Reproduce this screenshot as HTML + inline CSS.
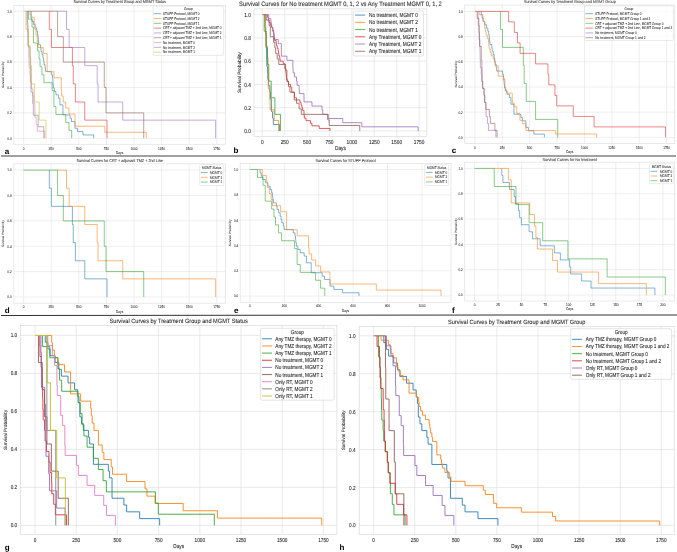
<!DOCTYPE html>
<html lang="en">
<head>
<meta charset="utf-8">
<title>Survival Curves by Treatment Group and MGMT Status</title>
<style>
html,body{margin:0;padding:0;background:#fff;}
body{width:677px;height:552px;overflow:hidden;}
svg{display:block;text-rendering:geometricPrecision;}
text{stroke:#262626;stroke-width:0.12px;stroke-opacity:0.6;font-family:"Liberation Sans",Arial,sans-serif;fill:#262626;}
text.s{stroke-width:0.06px;}
</style>
</head>
<body>
<svg width="677" height="552" viewBox="0 0 677 552">
<rect width="677" height="552" fill="#fff"/>
<path d="M23.6 5.3V144.2M51.2 5.3V144.2M78.8 5.3V144.2M106.4 5.3V144.2M134 5.3V144.2M161.6 5.3V144.2M189.2 5.3V144.2M216.8 5.3V144.2M13.9 138.3H225.4M13.9 112.88H225.4M13.9 87.46H225.4M13.9 62.04H225.4M13.9 36.62H225.4M13.9 11.2H225.4" stroke="#dddddd" stroke-width="0.5" fill="none"/>
<path d="M30.11 11.2 L30.11 14.54 L30.89 14.54 L30.89 17.89 L31.84 17.89 L31.84 21.23 L33.5 21.23 L33.5 24.58 L35.17 24.58 L35.17 27.92 L36.61 27.92 L36.61 31.27 L37.57 31.27 L37.57 34.61 L38.04 34.61 L38.04 37.96 L38.28 37.96 L38.28 41.3 L38.72 41.3 L38.72 44.65 L40.6 44.65 L40.6 47.99 L41.04 47.99 L41.04 51.34 L42.04 51.34 L42.04 54.68 L43.03 54.68 L43.03 58.03 L43.58 58.03 L43.58 61.37 L44.08 61.37 L44.08 64.72 L45.08 64.72 L45.08 68.06 L45.57 68.06 L45.57 71.41 L51.42 71.41 L51.42 74.75 L52.52 74.75 L52.52 78.09 L52.86 78.09 L52.86 81.44 L53.08 81.44 L53.08 84.78 L53.41 84.78 L53.41 88.13 L54.4 88.13 L54.4 91.47 L55.91 91.47 L55.91 94.82 L58.43 94.82 L58.43 98.16 L59.92 98.16 L59.92 104.85 L62.95 104.85 L62.95 114.89 L69.97 114.89 L69.97 118.23 L71.47 118.23 L71.47 121.58 L74.99 121.58 L74.99 128.27 L77.48 128.27 L77.48 131.61 L83 131.61 L83 134.96 L93.65 134.96 L93.65 138.3" stroke="#1f77b4" stroke-width="0.62" fill="none" stroke-linejoin="miter" stroke-opacity="0.9"/>
<path d="M31.55 11.2 L31.55 17.25 L34.2 17.25 L34.2 23.3 L34.86 23.3 L34.86 29.36 L36.08 29.36 L36.08 35.41 L37.29 35.41 L37.29 41.46 L38.01 41.46 L38.01 47.51 L43.31 47.51 L43.31 53.57 L47.12 53.57 L47.12 71.72 L53.96 71.72 L53.96 77.78 L61.25 77.78 L61.25 89.88 L61.58 89.88 L61.58 95.93 L63.23 95.93 L63.23 101.99 L65.77 101.99 L65.77 108.04 L68.97 108.04 L68.97 114.09 L74.99 114.09 L74.99 126.2 L104.74 126.2 L104.74 132.25 L146.25 132.25 L146.25 138.3" stroke="#ff7f0e" stroke-width="0.62" fill="none" stroke-linejoin="miter" stroke-opacity="0.9"/>
<path d="M28.46 11.2 L28.46 19.14 L32.05 19.14 L32.05 27.09 L33.47 27.09 L33.47 42.98 L37.57 42.98 L37.57 50.92 L39.06 50.92 L39.06 58.86 L40.05 58.86 L40.05 66.81 L41.93 66.81 L41.93 74.75 L43.91 74.75 L43.91 82.69 L52.19 82.69 L52.19 90.64 L53.9 90.64 L53.9 106.53 L55.91 106.53 L55.91 114.47 L65.77 114.47 L65.77 122.41 L68.97 122.41 L68.97 130.36 L71.68 130.36 L71.68 138.3" stroke="#2ca02c" stroke-width="0.62" fill="none" stroke-linejoin="miter" stroke-opacity="0.9"/>
<path d="M49.32 11.2 L49.32 29.36 L51.42 29.36 L51.42 47.51 L72.4 47.51 L72.4 65.67 L73.28 65.67 L73.28 83.83 L75.38 83.83 L75.38 101.99 L84.76 101.99 L84.76 120.14 L107.06 120.14 L107.06 138.3" stroke="#d62728" stroke-width="0.62" fill="none" stroke-linejoin="miter" stroke-opacity="0.9"/>
<path d="M57.6 11.2 L66.5 11.2 L66.5 29.36 L69.16 29.36 L69.16 47.51 L84.76 47.51 L84.76 65.67 L97.18 65.67 L97.18 83.83 L98.06 83.83 L98.06 101.99 L122.74 101.99 L122.74 120.14 L215.64 120.14 L215.64 138.3" stroke="#9467bd" stroke-width="0.62" fill="none" stroke-linejoin="miter" stroke-opacity="0.9"/>
<path d="M27.57 11.2 L57.6 11.2 L57.6 36.62 L63.31 36.62 L63.31 62.04 L104.27 62.04 L104.27 87.46 L106.04 87.46 L106.04 112.88 L143.72 112.88 L143.72 138.3" stroke="#8c564b" stroke-width="0.62" fill="none" stroke-linejoin="miter" stroke-opacity="0.9"/>
<path d="M26.8 11.2 L26.8 18.26 L26.93 18.26 L26.93 25.32 L27.7 25.32 L27.7 32.38 L28.25 32.38 L28.25 39.44 L28.39 39.44 L28.39 46.51 L28.76 46.51 L28.76 53.57 L28.89 53.57 L28.89 60.63 L29.09 60.63 L29.09 67.69 L30 67.69 L30 74.75 L30.39 74.75 L30.39 81.81 L31.29 81.81 L31.29 88.87 L32.96 88.87 L32.96 95.93 L33.66 95.93 L33.66 102.99 L34.75 102.99 L34.75 110.06 L34.87 110.06 L34.87 117.12 L36.15 117.12 L36.15 124.18 L37.26 124.18 L37.26 131.24 L44.74 131.24 L44.74 138.3" stroke="#e377c2" stroke-width="0.62" fill="none" stroke-linejoin="miter" stroke-opacity="0.9"/>
<path d="M25.92 11.2 L27.57 11.2 L27.57 22.75 L27.91 22.75 L27.91 45.86 L30.07 45.86 L30.07 57.42 L30.63 57.42 L30.63 68.97 L30.8 68.97 L30.8 80.53 L30.97 80.53 L30.97 92.08 L32.74 92.08 L32.74 103.64 L33.33 103.64 L33.33 115.19 L38.14 115.19 L38.14 126.75 L43.74 126.75 L43.74 138.3" stroke="#7f7f7f" stroke-width="0.62" fill="none" stroke-linejoin="miter" stroke-opacity="0.9"/>
<path d="M23.6 11.2 L25.92 11.2 L25.92 29.36 L28.46 29.36 L28.46 47.51 L30 47.51 L30 65.67 L31.59 65.67 L31.59 83.83 L34.55 83.83 L34.55 101.99 L39.14 101.99 L39.14 120.14 L45.97 120.14 L45.97 138.3" stroke="#bcbd22" stroke-width="0.62" fill="none" stroke-linejoin="miter" stroke-opacity="0.9"/>
<rect x="13.9" y="5.3" width="211.5" height="138.9" fill="none" stroke="#d4d4d4" stroke-width="0.5"/>
<text class="s" transform="translate(119.65 3.4) scale(1 1.1)" font-size="3.78" text-anchor="middle">Survival Curves by Treatment Group and MGMT Status</text>
<text class="s" transform="translate(23.6 149.68) scale(1 1.22)" font-size="3.15" text-anchor="middle">0</text>
<text class="s" transform="translate(51.2 149.68) scale(1 1.22)" font-size="3.15" text-anchor="middle">250</text>
<text class="s" transform="translate(78.8 149.68) scale(1 1.22)" font-size="3.15" text-anchor="middle">500</text>
<text class="s" transform="translate(106.4 149.68) scale(1 1.22)" font-size="3.15" text-anchor="middle">750</text>
<text class="s" transform="translate(134 149.68) scale(1 1.22)" font-size="3.15" text-anchor="middle">1000</text>
<text class="s" transform="translate(161.6 149.68) scale(1 1.22)" font-size="3.15" text-anchor="middle">1250</text>
<text class="s" transform="translate(189.2 149.68) scale(1 1.22)" font-size="3.15" text-anchor="middle">1500</text>
<text class="s" transform="translate(216.8 149.68) scale(1 1.22)" font-size="3.15" text-anchor="middle">1750</text>
<text class="s" transform="translate(11.7 139.68) scale(1 1.22)" font-size="3.15" text-anchor="end">0.0</text>
<text class="s" transform="translate(11.7 114.26) scale(1 1.22)" font-size="3.15" text-anchor="end">0.2</text>
<text class="s" transform="translate(11.7 88.84) scale(1 1.22)" font-size="3.15" text-anchor="end">0.4</text>
<text class="s" transform="translate(11.7 63.42) scale(1 1.22)" font-size="3.15" text-anchor="end">0.6</text>
<text class="s" transform="translate(11.7 38) scale(1 1.22)" font-size="3.15" text-anchor="end">0.8</text>
<text class="s" transform="translate(11.7 12.58) scale(1 1.22)" font-size="3.15" text-anchor="end">1.0</text>
<text class="s" transform="translate(119.65 153.85) scale(1 1.22)" font-size="3.15" text-anchor="middle">Days</text>
<text transform="translate(3.2 74.75) rotate(-90)" font-size="3.15" class="s" text-anchor="middle" dy="0.94">Survival Probability</text>
<rect x="153.2" y="6.2" width="70.5" height="49.2" rx="1" fill="#fff" fill-opacity="0.8" stroke="#d4d4d4" stroke-width="0.5"/>
<text class="s" transform="translate(188.45 10.47) scale(1 1.22)" font-size="3.15" text-anchor="middle">Group</text>
<path d="M153.9 13.7H161.2" stroke="#1f77b4" stroke-width="0.62" stroke-opacity="0.9"/>
<text class="s" transform="translate(162.9 15.01) scale(1 1.22)" font-size="3.15">STUPP Protocol, MGMT 0</text>
<path d="M153.9 18.51H161.2" stroke="#ff7f0e" stroke-width="0.62" stroke-opacity="0.9"/>
<text class="s" transform="translate(162.9 19.82) scale(1 1.22)" font-size="3.15">STUPP Protocol, MGMT 2</text>
<path d="M153.9 23.32H161.2" stroke="#2ca02c" stroke-width="0.62" stroke-opacity="0.9"/>
<text class="s" transform="translate(162.9 24.63) scale(1 1.22)" font-size="3.15">STUPP Protocol, MGMT 1</text>
<path d="M153.9 28.13H161.2" stroke="#d62728" stroke-width="0.62" stroke-opacity="0.9"/>
<text class="s" transform="translate(162.9 29.44) scale(1 1.22)" font-size="3.15">CRT + adjuvant TMZ + 2nd Line, MGMT 0</text>
<path d="M153.9 32.94H161.2" stroke="#9467bd" stroke-width="0.62" stroke-opacity="0.9"/>
<text class="s" transform="translate(162.9 34.25) scale(1 1.22)" font-size="3.15">CRT + adjuvant TMZ + 2nd Line, MGMT 2</text>
<path d="M153.9 37.75H161.2" stroke="#8c564b" stroke-width="0.62" stroke-opacity="0.9"/>
<text class="s" transform="translate(162.9 39.06) scale(1 1.22)" font-size="3.15">CRT + adjuvant TMZ + 2nd Line, MGMT 1</text>
<path d="M153.9 42.56H161.2" stroke="#e377c2" stroke-width="0.62" stroke-opacity="0.9"/>
<text class="s" transform="translate(162.9 43.87) scale(1 1.22)" font-size="3.15">No treatment, MGMT 0</text>
<path d="M153.9 47.37H161.2" stroke="#7f7f7f" stroke-width="0.62" stroke-opacity="0.9"/>
<text class="s" transform="translate(162.9 48.68) scale(1 1.22)" font-size="3.15">No treatment, MGMT 2</text>
<path d="M153.9 52.18H161.2" stroke="#bcbd22" stroke-width="0.62" stroke-opacity="0.9"/>
<text class="s" transform="translate(162.9 53.49) scale(1 1.22)" font-size="3.15">No treatment, MGMT 1</text>
<text x="4.7" y="153.7" font-size="8" font-weight="bold" style="fill:#000;stroke:none">a</text>
<path d="M262.3 8.9V136.5M284.7 8.9V136.5M307.1 8.9V136.5M329.5 8.9V136.5M351.9 8.9V136.5M374.3 8.9V136.5M396.7 8.9V136.5M419.1 8.9V136.5M254 131H426.9M254 107.72H426.9M254 84.44H426.9M254 61.16H426.9M254 37.88H426.9M254 14.6H426.9" stroke="#dddddd" stroke-width="0.6" fill="none"/>
<path d="M264.9 14.6 L264.9 21.07 L265.01 21.07 L265.01 27.53 L265.62 27.53 L265.62 34 L266.07 34 L266.07 40.47 L266.19 40.47 L266.19 46.93 L266.48 46.93 L266.48 53.4 L266.59 53.4 L266.59 59.87 L266.75 59.87 L266.75 66.33 L267.5 66.33 L267.5 72.8 L267.81 72.8 L267.81 79.27 L268.55 79.27 L268.55 85.73 L269.9 85.73 L269.9 92.2 L270.46 92.2 L270.46 98.67 L271.35 98.67 L271.35 105.13 L271.45 105.13 L271.45 111.6 L272.49 111.6 L272.49 118.07 L273.38 118.07 L273.38 124.53 L279.46 124.53 L279.46 131" stroke="#1f77b4" stroke-width="0.8" fill="none" stroke-linejoin="miter" stroke-opacity="0.95"/>
<path d="M265.53 14.6 L265.53 25.18 L265.79 25.18 L265.79 46.35 L267.55 46.35 L267.55 56.93 L268.01 56.93 L268.01 67.51 L268.14 67.51 L268.14 78.09 L268.29 78.09 L268.29 88.67 L269.72 88.67 L269.72 99.25 L270.19 99.25 L270.19 109.84 L274.1 109.84 L274.1 120.42 L278.64 120.42 L278.64 131" stroke="#ff7f0e" stroke-width="0.8" fill="none" stroke-linejoin="miter" stroke-opacity="0.95"/>
<path d="M264.18 14.6 L264.18 31.23 L266.24 31.23 L266.24 47.86 L267.5 47.86 L267.5 64.49 L268.79 64.49 L268.79 81.11 L271.19 81.11 L271.19 97.74 L274.92 97.74 L274.92 114.37 L280.45 114.37 L280.45 131" stroke="#2ca02c" stroke-width="0.8" fill="none" stroke-linejoin="miter" stroke-opacity="0.95"/>
<path d="M267.59 14.6 L267.59 17.19 L268.21 17.19 L268.21 19.77 L268.98 19.77 L268.98 22.36 L270.34 22.36 L270.34 24.95 L271.69 24.95 L271.69 27.53 L272.85 27.53 L272.85 30.12 L273.63 30.12 L273.63 32.71 L274.02 32.71 L274.02 35.29 L274.22 35.29 L274.22 37.88 L274.58 37.88 L274.58 40.47 L276.1 40.47 L276.1 43.05 L276.46 43.05 L276.46 45.64 L277.26 45.64 L277.26 48.23 L278.07 48.23 L278.07 50.81 L278.52 50.81 L278.52 53.4 L278.92 53.4 L278.92 55.99 L279.74 55.99 L279.74 58.57 L280.13 58.57 L280.13 61.16 L283.18 61.16 L283.18 63.75 L284.88 63.75 L284.88 68.92 L285.78 68.92 L285.78 71.51 L286.04 71.51 L286.04 74.09 L286.22 74.09 L286.22 76.68 L286.49 76.68 L286.49 79.27 L287.3 79.27 L287.3 81.85 L288.53 81.85 L288.53 84.44 L290.57 84.44 L290.57 87.03 L291.78 87.03 L291.78 92.2 L294.23 92.2 L294.23 99.96 L299.93 99.96 L299.93 102.55 L301.15 102.55 L301.15 105.13 L301.9 105.13 L301.9 107.72 L302.62 107.72 L302.62 110.31 L304.01 110.31 L304.01 115.48 L304.32 115.48 L304.32 118.07 L306.02 118.07 L306.02 120.65 L310.5 120.65 L310.5 123.24 L311.94 123.24 L311.94 125.83 L319.15 125.83 L319.15 128.41 L330.04 128.41 L330.04 131" stroke="#d62728" stroke-width="0.8" fill="none" stroke-linejoin="miter" stroke-opacity="0.95"/>
<path d="M266.24 14.6 L268.75 14.6 L268.75 18.76 L270.9 18.76 L270.9 22.91 L271.44 22.91 L271.44 27.07 L272.42 27.07 L272.42 31.23 L273.41 31.23 L273.41 35.39 L273.99 35.39 L273.99 39.54 L278.29 39.54 L278.29 43.7 L281.38 43.7 L281.38 56.17 L286.94 56.17 L286.94 60.33 L292.85 60.33 L292.85 68.64 L293.12 68.64 L293.12 72.8 L294.47 72.8 L294.47 76.96 L296.53 76.96 L296.53 81.11 L297.12 81.11 L297.12 85.27 L299.13 85.27 L299.13 89.43 L299.28 89.43 L299.28 93.59 L304.01 93.59 L304.01 101.9 L311.94 101.9 L311.94 106.06 L322.02 106.06 L322.02 110.21 L322.74 110.21 L322.74 114.37 L328.16 114.37 L328.16 118.53 L342.76 118.53 L342.76 122.69 L361.85 122.69 L361.85 126.84 L418.16 126.84 L418.16 131" stroke="#9467bd" stroke-width="0.8" fill="none" stroke-linejoin="miter" stroke-opacity="0.95"/>
<path d="M262.3 14.6 L266.24 14.6 L266.24 20.14 L269.15 20.14 L269.15 25.69 L270.31 25.69 L270.31 36.77 L273.63 36.77 L273.63 42.31 L274.84 42.31 L274.84 47.86 L275.65 47.86 L275.65 53.4 L277.17 53.4 L277.17 58.94 L278.79 58.94 L278.79 64.49 L285.51 64.49 L285.51 70.03 L286.9 70.03 L286.9 81.11 L288.53 81.11 L288.53 86.66 L289.9 86.66 L289.9 92.2 L294.53 92.2 L294.53 97.74 L296.53 97.74 L296.53 103.29 L299.13 103.29 L299.13 108.83 L301.32 108.83 L301.32 114.37 L327.77 114.37 L327.77 119.91 L329.2 119.91 L329.2 125.46 L359.78 125.46 L359.78 131" stroke="#8c564b" stroke-width="0.8" fill="none" stroke-linejoin="miter" stroke-opacity="0.95"/>
<rect x="254" y="8.9" width="172.9" height="127.6" fill="none" stroke="#d4d4d4" stroke-width="0.6"/>
<text transform="translate(340.45 5.88) scale(1 1.1)" font-size="5.75" text-anchor="middle">Survival Curves for No treatment MGMT 0, 1, 2 vs Any Treatment MGMT 0, 1, 2</text>
<text transform="translate(262.3 144.31) scale(1 1.22)" font-size="4.8" text-anchor="middle">0</text>
<text transform="translate(284.7 144.31) scale(1 1.22)" font-size="4.8" text-anchor="middle">250</text>
<text transform="translate(307.1 144.31) scale(1 1.22)" font-size="4.8" text-anchor="middle">500</text>
<text transform="translate(329.5 144.31) scale(1 1.22)" font-size="4.8" text-anchor="middle">750</text>
<text transform="translate(351.9 144.31) scale(1 1.22)" font-size="4.8" text-anchor="middle">1000</text>
<text transform="translate(374.3 144.31) scale(1 1.22)" font-size="4.8" text-anchor="middle">1250</text>
<text transform="translate(396.7 144.31) scale(1 1.22)" font-size="4.8" text-anchor="middle">1500</text>
<text transform="translate(419.1 144.31) scale(1 1.22)" font-size="4.8" text-anchor="middle">1750</text>
<text transform="translate(250.8 133.11) scale(1 1.22)" font-size="4.8" text-anchor="end">0.0</text>
<text transform="translate(250.8 109.83) scale(1 1.22)" font-size="4.8" text-anchor="end">0.2</text>
<text transform="translate(250.8 86.55) scale(1 1.22)" font-size="4.8" text-anchor="end">0.4</text>
<text transform="translate(250.8 63.27) scale(1 1.22)" font-size="4.8" text-anchor="end">0.6</text>
<text transform="translate(250.8 39.99) scale(1 1.22)" font-size="4.8" text-anchor="end">0.8</text>
<text transform="translate(250.8 16.71) scale(1 1.22)" font-size="4.8" text-anchor="end">1.0</text>
<text transform="translate(340.45 150.16) scale(1 1.22)" font-size="4.8" text-anchor="middle">Days</text>
<text transform="translate(239.2 72.7) rotate(-90)" font-size="4.8" text-anchor="middle" dy="1.44">Survival Probability</text>
<rect x="353.3" y="11" width="70.2" height="45" rx="1.5" fill="#fff" fill-opacity="0.8" stroke="#d4d4d4" stroke-width="0.6"/>
<path d="M355.1 15.1H365.2" stroke="#1f77b4" stroke-width="0.8" stroke-opacity="0.95"/>
<text transform="translate(369 17.09) scale(1 1.22)" font-size="4.8">No treatment, MGMT 0</text>
<path d="M355.1 22.34H365.2" stroke="#ff7f0e" stroke-width="0.8" stroke-opacity="0.95"/>
<text transform="translate(369 24.33) scale(1 1.22)" font-size="4.8">No treatment, MGMT 2</text>
<path d="M355.1 29.58H365.2" stroke="#2ca02c" stroke-width="0.8" stroke-opacity="0.95"/>
<text transform="translate(369 31.57) scale(1 1.22)" font-size="4.8">No treatment, MGMT 1</text>
<path d="M355.1 36.82H365.2" stroke="#d62728" stroke-width="0.8" stroke-opacity="0.95"/>
<text transform="translate(369 38.81) scale(1 1.22)" font-size="4.8">Any Treatment, MGMT 0</text>
<path d="M355.1 44.06H365.2" stroke="#9467bd" stroke-width="0.8" stroke-opacity="0.95"/>
<text transform="translate(369 46.05) scale(1 1.22)" font-size="4.8">Any Treatment, MGMT 2</text>
<path d="M355.1 51.3H365.2" stroke="#8c564b" stroke-width="0.8" stroke-opacity="0.95"/>
<text transform="translate(369 53.29) scale(1 1.22)" font-size="4.8">Any Treatment, MGMT 1</text>
<text x="233.6" y="152.6" font-size="8" font-weight="bold" style="fill:#000;stroke:none">b</text>
<path d="M474.9 5V143.3M502.29 5V143.3M529.68 5V143.3M557.07 5V143.3M584.46 5V143.3M611.85 5V143.3M639.24 5V143.3M666.63 5V143.3M464.8 137.4H674.8M464.8 112.2H674.8M464.8 87H674.8M464.8 61.8H674.8M464.8 36.6H674.8M464.8 11.4H674.8" stroke="#dddddd" stroke-width="0.5" fill="none"/>
<path d="M481.36 11.4 L481.36 14.72 L482.13 14.72 L482.13 18.03 L483.07 18.03 L483.07 21.35 L484.73 21.35 L484.73 24.66 L486.38 24.66 L486.38 27.98 L487.81 27.98 L487.81 31.29 L488.76 31.29 L488.76 34.61 L489.23 34.61 L489.23 37.93 L489.47 37.93 L489.47 41.24 L489.91 41.24 L489.91 44.56 L491.77 44.56 L491.77 47.87 L492.21 47.87 L492.21 51.19 L493.2 51.19 L493.2 54.51 L494.18 54.51 L494.18 57.82 L494.73 57.82 L494.73 61.14 L495.22 61.14 L495.22 64.45 L496.22 64.45 L496.22 67.77 L496.7 67.77 L496.7 71.08 L502.51 71.08 L502.51 74.4 L503.6 74.4 L503.6 77.72 L503.93 77.72 L503.93 81.03 L504.15 81.03 L504.15 84.35 L504.48 84.35 L504.48 87.66 L505.47 87.66 L505.47 90.98 L506.97 90.98 L506.97 94.29 L509.47 94.29 L509.47 97.61 L510.95 97.61 L510.95 104.24 L513.95 104.24 L513.95 114.19 L520.92 114.19 L520.92 117.51 L522.41 117.51 L522.41 120.82 L525.9 120.82 L525.9 127.45 L528.37 127.45 L528.37 130.77 L533.84 130.77 L533.84 134.08 L544.42 134.08 L544.42 137.4" stroke="#1f77b4" stroke-width="0.62" fill="none" stroke-linejoin="miter" stroke-opacity="0.9"/>
<path d="M479.72 11.4 L479.72 14.81 L482.79 14.81 L482.79 18.21 L483.28 18.21 L483.28 21.62 L484.69 21.62 L484.69 28.43 L485.42 28.43 L485.42 31.83 L486.08 31.83 L486.08 35.24 L487.28 35.24 L487.28 38.64 L488.49 38.64 L488.49 42.05 L488.76 42.05 L488.76 45.45 L489.2 45.45 L489.2 48.86 L490.24 48.86 L490.24 52.26 L491.22 52.26 L491.22 55.67 L493.09 55.67 L493.09 59.08 L494.46 59.08 L494.46 62.48 L495.06 62.48 L495.06 65.89 L498.24 65.89 L498.24 76.1 L503.28 76.1 L503.28 79.51 L504.97 79.51 L504.97 86.32 L505.03 86.32 L505.03 89.72 L506.97 89.72 L506.97 93.13 L512.26 93.13 L512.26 99.94 L512.59 99.94 L512.59 103.35 L514.23 103.35 L514.23 106.75 L516.75 106.75 L516.75 113.56 L519.93 113.56 L519.93 120.37 L522.61 120.37 L522.61 123.78 L525.9 123.78 L525.9 130.59 L555.43 130.59 L555.43 133.99 L596.62 133.99 L596.62 137.4" stroke="#ff7f0e" stroke-width="0.62" fill="none" stroke-linejoin="miter" stroke-opacity="0.9"/>
<path d="M500.43 11.4 L500.43 29.4 L502.51 29.4 L502.51 47.4 L523.33 47.4 L523.33 65.4 L524.2 65.4 L524.2 83.4 L526.28 83.4 L526.28 101.4 L535.6 101.4 L535.6 119.4 L557.73 119.4 L557.73 137.4" stroke="#2ca02c" stroke-width="0.62" fill="none" stroke-linejoin="miter" stroke-opacity="0.9"/>
<path d="M478.08 11.4 L508.64 11.4 L508.64 21.9 L514.31 21.9 L514.31 32.4 L517.48 32.4 L517.48 42.9 L520.12 42.9 L520.12 53.4 L535.6 53.4 L535.6 63.9 L547.92 63.9 L547.92 74.4 L548.8 74.4 L548.8 84.9 L554.96 84.9 L554.96 95.4 L556.71 95.4 L556.71 105.9 L573.28 105.9 L573.28 116.4 L594.1 116.4 L594.1 126.9 L665.48 126.9 L665.48 137.4" stroke="#d62728" stroke-width="0.62" fill="none" stroke-linejoin="miter" stroke-opacity="0.9"/>
<path d="M477.2 11.4 L478.08 11.4 L478.08 18.4 L478.21 18.4 L478.21 25.4 L478.96 25.4 L478.96 32.4 L479.51 32.4 L479.51 39.4 L479.65 39.4 L479.65 46.4 L480.02 46.4 L480.02 53.4 L480.15 53.4 L480.15 60.4 L480.35 60.4 L480.35 67.4 L481.25 67.4 L481.25 74.4 L481.64 74.4 L481.64 81.4 L482.54 81.4 L482.54 88.4 L484.19 88.4 L484.19 95.4 L484.88 95.4 L484.88 102.4 L485.97 102.4 L485.97 109.4 L486.09 109.4 L486.09 116.4 L487.36 116.4 L487.36 123.4 L488.45 123.4 L488.45 130.4 L495.88 130.4 L495.88 137.4" stroke="#9467bd" stroke-width="0.62" fill="none" stroke-linejoin="miter" stroke-opacity="0.9"/>
<path d="M474.9 11.4 L477.2 11.4 L477.2 18.4 L478.84 18.4 L478.84 25.4 L479.17 25.4 L479.17 39.4 L479.72 39.4 L479.72 46.4 L481.25 46.4 L481.25 53.4 L481.32 53.4 L481.32 60.4 L481.88 60.4 L481.88 67.4 L482.04 67.4 L482.04 74.4 L482.22 74.4 L482.22 81.4 L482.83 81.4 L482.83 88.4 L483.97 88.4 L483.97 95.4 L484.55 95.4 L484.55 102.4 L485.77 102.4 L485.77 109.4 L489.33 109.4 L489.33 116.4 L490.33 116.4 L490.33 123.4 L494.88 123.4 L494.88 130.4 L497.1 130.4 L497.1 137.4" stroke="#8c564b" stroke-width="0.62" fill="none" stroke-linejoin="miter" stroke-opacity="0.9"/>
<rect x="464.8" y="5" width="210" height="138.3" fill="none" stroke="#d4d4d4" stroke-width="0.5"/>
<text class="s" transform="translate(569.8 3.48) scale(1 1.1)" font-size="3.75" text-anchor="middle">Survival Curves by Treatment Group and MGMT Group</text>
<text class="s" transform="translate(474.9 148.78) scale(1 1.22)" font-size="3.15" text-anchor="middle">0</text>
<text class="s" transform="translate(502.29 148.78) scale(1 1.22)" font-size="3.15" text-anchor="middle">250</text>
<text class="s" transform="translate(529.68 148.78) scale(1 1.22)" font-size="3.15" text-anchor="middle">500</text>
<text class="s" transform="translate(557.07 148.78) scale(1 1.22)" font-size="3.15" text-anchor="middle">750</text>
<text class="s" transform="translate(584.46 148.78) scale(1 1.22)" font-size="3.15" text-anchor="middle">1000</text>
<text class="s" transform="translate(611.85 148.78) scale(1 1.22)" font-size="3.15" text-anchor="middle">1250</text>
<text class="s" transform="translate(639.24 148.78) scale(1 1.22)" font-size="3.15" text-anchor="middle">1500</text>
<text class="s" transform="translate(666.63 148.78) scale(1 1.22)" font-size="3.15" text-anchor="middle">1750</text>
<text class="s" transform="translate(462.8 138.78) scale(1 1.22)" font-size="3.15" text-anchor="end">0.0</text>
<text class="s" transform="translate(462.8 113.58) scale(1 1.22)" font-size="3.15" text-anchor="end">0.2</text>
<text class="s" transform="translate(462.8 88.38) scale(1 1.22)" font-size="3.15" text-anchor="end">0.4</text>
<text class="s" transform="translate(462.8 63.18) scale(1 1.22)" font-size="3.15" text-anchor="end">0.6</text>
<text class="s" transform="translate(462.8 37.98) scale(1 1.22)" font-size="3.15" text-anchor="end">0.8</text>
<text class="s" transform="translate(462.8 12.78) scale(1 1.22)" font-size="3.15" text-anchor="end">1.0</text>
<text class="s" transform="translate(569.8 152.95) scale(1 1.22)" font-size="3.15" text-anchor="middle">Days</text>
<text transform="translate(455.8 74.15) rotate(-90)" font-size="3.15" class="s" text-anchor="middle" dy="0.94">Survival Probability</text>
<rect x="584.5" y="5.9" width="88.8" height="34.6" rx="1" fill="#fff" fill-opacity="0.8" stroke="#d4d4d4" stroke-width="0.5"/>
<text class="s" transform="translate(628.9 10.17) scale(1 1.22)" font-size="3.15" text-anchor="middle">Group</text>
<path d="M585.4 13.7H593.1" stroke="#1f77b4" stroke-width="0.62" stroke-opacity="0.9"/>
<text class="s" transform="translate(595.2 15.01) scale(1 1.22)" font-size="3.15">STUPP Protocol, MGMT Group 0</text>
<path d="M585.4 18.5H593.1" stroke="#ff7f0e" stroke-width="0.62" stroke-opacity="0.9"/>
<text class="s" transform="translate(595.2 19.81) scale(1 1.22)" font-size="3.15">STUPP Protocol, MGMT Group 1 and 2</text>
<path d="M585.4 23.3H593.1" stroke="#2ca02c" stroke-width="0.62" stroke-opacity="0.9"/>
<text class="s" transform="translate(595.2 24.61) scale(1 1.22)" font-size="3.15">CRT + adjuvant TMZ + 2nd Line, MGMT Group 0</text>
<path d="M585.4 28.1H593.1" stroke="#d62728" stroke-width="0.62" stroke-opacity="0.9"/>
<text class="s" transform="translate(595.2 29.41) scale(1 1.22)" font-size="3.15">CRT + adjuvant TMZ + 2nd Line, MGMT Group 1 and 2</text>
<path d="M585.4 32.9H593.1" stroke="#9467bd" stroke-width="0.62" stroke-opacity="0.9"/>
<text class="s" transform="translate(595.2 34.21) scale(1 1.22)" font-size="3.15">No treatment, MGMT Group 0</text>
<path d="M585.4 37.7H593.1" stroke="#8c564b" stroke-width="0.62" stroke-opacity="0.9"/>
<text class="s" transform="translate(595.2 39.01) scale(1 1.22)" font-size="3.15">No treatment, MGMT Group 1 and 2</text>
<text x="451.8" y="152.7" font-size="8" font-weight="bold" style="fill:#000;stroke:none">c</text>
<path d="M23.6 163.9V303.2M51.2 163.9V303.2M78.8 163.9V303.2M106.4 163.9V303.2M134 163.9V303.2M161.6 163.9V303.2M189.2 163.9V303.2M216.8 163.9V303.2M13.9 297H225.4M13.9 271.62H225.4M13.9 246.24H225.4M13.9 220.86H225.4M13.9 195.48H225.4M13.9 170.1H225.4" stroke="#dddddd" stroke-width="0.5" fill="none"/>
<path d="M49.32 170.1 L49.32 188.23 L51.42 188.23 L51.42 206.36 L72.4 206.36 L72.4 224.49 L73.28 224.49 L73.28 242.61 L75.38 242.61 L75.38 260.74 L84.76 260.74 L84.76 278.87 L107.06 278.87 L107.06 297" stroke="#1f77b4" stroke-width="0.62" fill="none" stroke-linejoin="miter" stroke-opacity="0.9"/>
<path d="M57.6 170.1 L66.5 170.1 L66.5 188.23 L69.16 188.23 L69.16 206.36 L84.76 206.36 L84.76 224.49 L97.18 224.49 L97.18 242.61 L98.06 242.61 L98.06 260.74 L122.74 260.74 L122.74 278.87 L215.64 278.87 L215.64 297" stroke="#ff7f0e" stroke-width="0.62" fill="none" stroke-linejoin="miter" stroke-opacity="0.9"/>
<path d="M23.6 170.1 L57.6 170.1 L57.6 195.48 L63.31 195.48 L63.31 220.86 L104.27 220.86 L104.27 246.24 L106.04 246.24 L106.04 271.62 L143.72 271.62 L143.72 297" stroke="#2ca02c" stroke-width="0.62" fill="none" stroke-linejoin="miter" stroke-opacity="0.9"/>
<rect x="13.9" y="163.9" width="211.5" height="139.3" fill="none" stroke="#d4d4d4" stroke-width="0.5"/>
<text class="s" transform="translate(119.65 161.9) scale(1 1.1)" font-size="3.78" text-anchor="middle">Survival Curves for CRT + adjuvant TMZ + 2nd Line</text>
<text class="s" transform="translate(23.6 307.98) scale(1 1.22)" font-size="3.15" text-anchor="middle">0</text>
<text class="s" transform="translate(51.2 307.98) scale(1 1.22)" font-size="3.15" text-anchor="middle">250</text>
<text class="s" transform="translate(78.8 307.98) scale(1 1.22)" font-size="3.15" text-anchor="middle">500</text>
<text class="s" transform="translate(106.4 307.98) scale(1 1.22)" font-size="3.15" text-anchor="middle">750</text>
<text class="s" transform="translate(134 307.98) scale(1 1.22)" font-size="3.15" text-anchor="middle">1000</text>
<text class="s" transform="translate(161.6 307.98) scale(1 1.22)" font-size="3.15" text-anchor="middle">1250</text>
<text class="s" transform="translate(189.2 307.98) scale(1 1.22)" font-size="3.15" text-anchor="middle">1500</text>
<text class="s" transform="translate(216.8 307.98) scale(1 1.22)" font-size="3.15" text-anchor="middle">1750</text>
<text class="s" transform="translate(11.7 298.38) scale(1 1.22)" font-size="3.15" text-anchor="end">0.0</text>
<text class="s" transform="translate(11.7 273) scale(1 1.22)" font-size="3.15" text-anchor="end">0.2</text>
<text class="s" transform="translate(11.7 247.62) scale(1 1.22)" font-size="3.15" text-anchor="end">0.4</text>
<text class="s" transform="translate(11.7 222.24) scale(1 1.22)" font-size="3.15" text-anchor="end">0.6</text>
<text class="s" transform="translate(11.7 196.86) scale(1 1.22)" font-size="3.15" text-anchor="end">0.8</text>
<text class="s" transform="translate(11.7 171.48) scale(1 1.22)" font-size="3.15" text-anchor="end">1.0</text>
<text class="s" transform="translate(119.65 312.55) scale(1 1.22)" font-size="3.15" text-anchor="middle">Days</text>
<text transform="translate(3.2 233.55) rotate(-90)" font-size="3.15" class="s" text-anchor="middle" dy="0.94">Survival Probability</text>
<rect x="199.7" y="164.7" width="24" height="20.8" rx="1" fill="#fff" fill-opacity="0.8" stroke="#d4d4d4" stroke-width="0.5"/>
<text class="s" transform="translate(211.7 169.07) scale(1 1.22)" font-size="3.15" text-anchor="middle">MGMT Status</text>
<path d="M200.9 172.6H207.7" stroke="#1f77b4" stroke-width="0.62" stroke-opacity="0.9"/>
<text class="s" transform="translate(210 173.91) scale(1 1.22)" font-size="3.15">MGMT 0</text>
<path d="M200.9 177.35H207.7" stroke="#ff7f0e" stroke-width="0.62" stroke-opacity="0.9"/>
<text class="s" transform="translate(210 178.66) scale(1 1.22)" font-size="3.15">MGMT 2</text>
<path d="M200.9 182.1H207.7" stroke="#2ca02c" stroke-width="0.62" stroke-opacity="0.9"/>
<text class="s" transform="translate(210 183.41) scale(1 1.22)" font-size="3.15">MGMT 1</text>
<text x="4.7" y="312.5" font-size="8" font-weight="bold" style="fill:#000;stroke:none">d</text>
<path d="M249.9 163.3V302.3M284.3 163.3V302.3M318.7 163.3V302.3M353.1 163.3V302.3M387.5 163.3V302.3M421.9 163.3V302.3M240.1 296.1H451M240.1 270.78H451M240.1 245.46H451M240.1 220.14H451M240.1 194.82H451M240.1 169.5H451" stroke="#dddddd" stroke-width="0.5" fill="none"/>
<path d="M260.05 169.5 L260.05 172.83 L261.25 172.83 L261.25 176.16 L262.73 176.16 L262.73 179.49 L265.33 179.49 L265.33 182.83 L267.93 182.83 L267.93 186.16 L270.16 186.16 L270.16 189.49 L271.66 189.49 L271.66 192.82 L272.4 192.82 L272.4 196.15 L272.78 196.15 L272.78 199.48 L273.46 199.48 L273.46 202.82 L276.39 202.82 L276.39 206.15 L277.08 206.15 L277.08 209.48 L278.62 209.48 L278.62 212.81 L280.17 212.81 L280.17 216.14 L281.03 216.14 L281.03 219.47 L281.81 219.47 L281.81 222.81 L283.37 222.81 L283.37 226.14 L284.13 226.14 L284.13 229.47 L293.24 229.47 L293.24 232.8 L294.96 232.8 L294.96 236.13 L295.48 236.13 L295.48 239.46 L295.82 239.46 L295.82 242.79 L296.34 242.79 L296.34 246.13 L297.89 246.13 L297.89 249.46 L300.24 249.46 L300.24 252.79 L304.17 252.79 L304.17 256.12 L306.49 256.12 L306.49 262.78 L311.2 262.78 L311.2 272.78 L322.14 272.78 L322.14 276.11 L324.48 276.11 L324.48 279.44 L329.97 279.44 L329.97 286.11 L333.84 286.11 L333.84 289.44 L342.44 289.44 L342.44 292.77 L359.03 292.77 L359.03 296.1" stroke="#1f77b4" stroke-width="0.62" fill="none" stroke-linejoin="miter" stroke-opacity="0.9"/>
<path d="M257.47 169.5 L262.28 169.5 L262.28 175.53 L266.41 175.53 L266.41 181.56 L267.44 181.56 L267.44 187.59 L269.34 187.59 L269.34 193.61 L271.23 193.61 L271.23 199.64 L272.35 199.64 L272.35 205.67 L280.6 205.67 L280.6 211.7 L286.54 211.7 L286.54 229.79 L297.2 229.79 L297.2 235.81 L308.55 235.81 L308.55 247.87 L309.07 247.87 L309.07 253.9 L311.65 253.9 L311.65 259.93 L315.6 259.93 L315.6 265.96 L320.59 265.96 L320.59 271.99 L329.97 271.99 L329.97 284.04 L376.32 284.04 L376.32 290.07 L440.99 290.07 L440.99 296.1" stroke="#ff7f0e" stroke-width="0.62" fill="none" stroke-linejoin="miter" stroke-opacity="0.9"/>
<path d="M249.9 169.5 L257.47 169.5 L257.47 177.41 L263.06 177.41 L263.06 185.32 L265.28 185.32 L265.28 201.15 L271.66 201.15 L271.66 209.06 L273.98 209.06 L273.98 216.98 L275.53 216.98 L275.53 224.89 L278.45 224.89 L278.45 232.8 L281.55 232.8 L281.55 240.71 L294.45 240.71 L294.45 248.62 L297.11 248.62 L297.11 264.45 L300.24 264.45 L300.24 272.36 L315.6 272.36 L315.6 280.28 L320.59 280.28 L320.59 288.19 L324.81 288.19 L324.81 296.1" stroke="#2ca02c" stroke-width="0.62" fill="none" stroke-linejoin="miter" stroke-opacity="0.9"/>
<rect x="240.1" y="163.3" width="210.9" height="139" fill="none" stroke="#d4d4d4" stroke-width="0.5"/>
<text class="s" transform="translate(345.55 161.79) scale(1 1.1)" font-size="3.75" text-anchor="middle">Survival Curves for STUPP Protocol</text>
<text class="s" transform="translate(249.9 307.38) scale(1 1.22)" font-size="3.15" text-anchor="middle">0</text>
<text class="s" transform="translate(284.3 307.38) scale(1 1.22)" font-size="3.15" text-anchor="middle">200</text>
<text class="s" transform="translate(318.7 307.38) scale(1 1.22)" font-size="3.15" text-anchor="middle">400</text>
<text class="s" transform="translate(353.1 307.38) scale(1 1.22)" font-size="3.15" text-anchor="middle">600</text>
<text class="s" transform="translate(387.5 307.38) scale(1 1.22)" font-size="3.15" text-anchor="middle">800</text>
<text class="s" transform="translate(421.9 307.38) scale(1 1.22)" font-size="3.15" text-anchor="middle">1000</text>
<text class="s" transform="translate(238.3 297.48) scale(1 1.22)" font-size="3.15" text-anchor="end">0.0</text>
<text class="s" transform="translate(238.3 272.16) scale(1 1.22)" font-size="3.15" text-anchor="end">0.2</text>
<text class="s" transform="translate(238.3 246.84) scale(1 1.22)" font-size="3.15" text-anchor="end">0.4</text>
<text class="s" transform="translate(238.3 221.52) scale(1 1.22)" font-size="3.15" text-anchor="end">0.6</text>
<text class="s" transform="translate(238.3 196.2) scale(1 1.22)" font-size="3.15" text-anchor="end">0.8</text>
<text class="s" transform="translate(238.3 170.88) scale(1 1.22)" font-size="3.15" text-anchor="end">1.0</text>
<text class="s" transform="translate(345.55 311.75) scale(1 1.22)" font-size="3.15" text-anchor="middle">Days</text>
<text transform="translate(230.5 232.8) rotate(-90)" font-size="3.15" class="s" text-anchor="middle" dy="0.94">Survival Probability</text>
<rect x="424.7" y="164.7" width="24" height="20.8" rx="1" fill="#fff" fill-opacity="0.8" stroke="#d4d4d4" stroke-width="0.5"/>
<text class="s" transform="translate(436.7 169.07) scale(1 1.22)" font-size="3.15" text-anchor="middle">MGMT Status</text>
<path d="M426 172.4H432.7" stroke="#1f77b4" stroke-width="0.62" stroke-opacity="0.9"/>
<text class="s" transform="translate(435 173.71) scale(1 1.22)" font-size="3.15">MGMT 0</text>
<path d="M426 177.15H432.7" stroke="#ff7f0e" stroke-width="0.62" stroke-opacity="0.9"/>
<text class="s" transform="translate(435 178.46) scale(1 1.22)" font-size="3.15">MGMT 2</text>
<path d="M426 181.9H432.7" stroke="#2ca02c" stroke-width="0.62" stroke-opacity="0.9"/>
<text class="s" transform="translate(435 183.21) scale(1 1.22)" font-size="3.15">MGMT 1</text>
<text x="233.9" y="313.2" font-size="8" font-weight="bold" style="fill:#000;stroke:none">e</text>
<path d="M474.5 162.1V301M498.05 162.1V301M521.6 162.1V301M545.15 162.1V301M568.7 162.1V301M592.25 162.1V301M615.8 162.1V301M639.35 162.1V301M662.9 162.1V301M464.8 295.1H674.8M464.8 269.76H674.8M464.8 244.42H674.8M464.8 219.08H674.8M464.8 193.74H674.8M464.8 168.4H674.8" stroke="#dddddd" stroke-width="0.5" fill="none"/>
<path d="M501.82 168.4 L501.82 175.44 L502.95 175.44 L502.95 182.48 L509.45 182.48 L509.45 189.52 L514.16 189.52 L514.16 196.56 L515.38 196.56 L515.38 203.59 L518.49 203.59 L518.49 210.63 L519.62 210.63 L519.62 217.67 L521.32 217.67 L521.32 224.71 L529.14 224.71 L529.14 231.75 L532.43 231.75 L532.43 238.79 L540.16 238.79 L540.16 245.83 L554.38 245.83 L554.38 252.87 L560.32 252.87 L560.32 259.91 L569.64 259.91 L569.64 266.94 L570.68 266.94 L570.68 273.98 L581.61 273.98 L581.61 281.02 L591.03 281.02 L591.03 288.06 L654.89 288.06 L654.89 295.1" stroke="#1f77b4" stroke-width="0.62" fill="none" stroke-linejoin="miter" stroke-opacity="0.9"/>
<path d="M494.28 168.4 L508.41 168.4 L508.41 179.92 L511.24 179.92 L511.24 202.95 L529.7 202.95 L529.7 214.47 L534.51 214.47 L534.51 225.99 L535.92 225.99 L535.92 237.51 L537.43 237.51 L537.43 249.03 L552.5 249.03 L552.5 260.55 L557.49 260.55 L557.49 272.06 L598.56 272.06 L598.56 283.58 L646.32 283.58 L646.32 295.1" stroke="#ff7f0e" stroke-width="0.62" fill="none" stroke-linejoin="miter" stroke-opacity="0.9"/>
<path d="M474.5 168.4 L494.28 168.4 L494.28 186.5 L515.95 186.5 L515.95 204.6 L529.14 204.6 L529.14 222.7 L542.7 222.7 L542.7 240.8 L567.95 240.8 L567.95 258.9 L607.13 258.9 L607.13 277 L665.35 277 L665.35 295.1" stroke="#2ca02c" stroke-width="0.62" fill="none" stroke-linejoin="miter" stroke-opacity="0.9"/>
<rect x="464.8" y="162.1" width="210" height="138.9" fill="none" stroke="#d4d4d4" stroke-width="0.5"/>
<text class="s" transform="translate(569.8 160.69) scale(1 1.1)" font-size="3.75" text-anchor="middle">Survival Curves for No treatment</text>
<text class="s" transform="translate(474.5 305.98) scale(1 1.22)" font-size="3.15" text-anchor="middle">0</text>
<text class="s" transform="translate(498.05 305.98) scale(1 1.22)" font-size="3.15" text-anchor="middle">25</text>
<text class="s" transform="translate(521.6 305.98) scale(1 1.22)" font-size="3.15" text-anchor="middle">50</text>
<text class="s" transform="translate(545.15 305.98) scale(1 1.22)" font-size="3.15" text-anchor="middle">75</text>
<text class="s" transform="translate(568.7 305.98) scale(1 1.22)" font-size="3.15" text-anchor="middle">100</text>
<text class="s" transform="translate(592.25 305.98) scale(1 1.22)" font-size="3.15" text-anchor="middle">125</text>
<text class="s" transform="translate(615.8 305.98) scale(1 1.22)" font-size="3.15" text-anchor="middle">150</text>
<text class="s" transform="translate(639.35 305.98) scale(1 1.22)" font-size="3.15" text-anchor="middle">175</text>
<text class="s" transform="translate(662.9 305.98) scale(1 1.22)" font-size="3.15" text-anchor="middle">200</text>
<text class="s" transform="translate(462.8 296.48) scale(1 1.22)" font-size="3.15" text-anchor="end">0.0</text>
<text class="s" transform="translate(462.8 271.14) scale(1 1.22)" font-size="3.15" text-anchor="end">0.2</text>
<text class="s" transform="translate(462.8 245.8) scale(1 1.22)" font-size="3.15" text-anchor="end">0.4</text>
<text class="s" transform="translate(462.8 220.46) scale(1 1.22)" font-size="3.15" text-anchor="end">0.6</text>
<text class="s" transform="translate(462.8 195.12) scale(1 1.22)" font-size="3.15" text-anchor="end">0.8</text>
<text class="s" transform="translate(462.8 169.78) scale(1 1.22)" font-size="3.15" text-anchor="end">1.0</text>
<text class="s" transform="translate(569.8 310.15) scale(1 1.22)" font-size="3.15" text-anchor="middle">Days</text>
<text transform="translate(455.8 231.55) rotate(-90)" font-size="3.15" class="s" text-anchor="middle" dy="0.94">Survival Probability</text>
<rect x="649.4" y="163.7" width="23.9" height="20" rx="1" fill="#fff" fill-opacity="0.8" stroke="#d4d4d4" stroke-width="0.5"/>
<text class="s" transform="translate(661.35 167.77) scale(1 1.22)" font-size="3.15" text-anchor="middle">MGMT Status</text>
<path d="M650.6 171.3H657.4" stroke="#1f77b4" stroke-width="0.62" stroke-opacity="0.9"/>
<text class="s" transform="translate(660 172.61) scale(1 1.22)" font-size="3.15">MGMT 0</text>
<path d="M650.6 176H657.4" stroke="#ff7f0e" stroke-width="0.62" stroke-opacity="0.9"/>
<text class="s" transform="translate(660 177.31) scale(1 1.22)" font-size="3.15">MGMT 2</text>
<path d="M650.6 180.7H657.4" stroke="#2ca02c" stroke-width="0.62" stroke-opacity="0.9"/>
<text class="s" transform="translate(660 182.01) scale(1 1.22)" font-size="3.15">MGMT 1</text>
<text x="452" y="313.2" font-size="8" font-weight="bold" style="fill:#000;stroke:none">f</text>
<path d="M35 325.6V534.3M76.2 325.6V534.3M117.4 325.6V534.3M158.6 325.6V534.3M199.8 325.6V534.3M241 325.6V534.3M282.2 325.6V534.3M323.4 325.6V534.3M20.4 525.4H336.9M20.4 487.4H336.9M20.4 449.4H336.9M20.4 411.4H336.9M20.4 373.4H336.9M20.4 335.4H336.9" stroke="#dddddd" stroke-width="0.62" fill="none"/>
<path d="M45.22 335.4 L45.22 342.19 L47.85 342.19 L47.85 348.97 L50.06 348.97 L50.06 355.76 L55.11 355.76 L55.11 362.54 L58.86 362.54 L58.86 369.33 L61.37 369.33 L61.37 376.11 L68.04 376.11 L68.04 382.9 L74.55 382.9 L74.55 389.69 L77.68 389.69 L77.68 396.47 L78.97 396.47 L78.97 403.26 L79.83 403.26 L79.83 416.83 L81.47 416.83 L81.47 423.61 L83.35 423.61 L83.35 430.4 L88.4 430.4 L88.4 437.19 L89.63 437.19 L89.63 443.97 L93.41 443.97 L93.41 464.33 L108.34 464.33 L108.34 471.11 L109.6 471.11 L109.6 477.9 L112.04 477.9 L112.04 498.26 L123.89 498.26 L123.89 505.04 L126.66 505.04 L126.66 511.83 L139.65 511.83 L139.65 518.61 L159.64 518.61 L159.64 525.4" stroke="#1f77b4" stroke-width="0.9" fill="none" stroke-linejoin="miter" stroke-opacity="0.95"/>
<path d="M47.85 335.4 L51.64 335.4 L51.64 342.71 L52.47 342.71 L52.47 350.02 L54.45 350.02 L54.45 357.32 L57.91 357.32 L57.91 364.63 L64.5 364.63 L64.5 371.94 L70.55 371.94 L70.55 393.86 L80.6 393.86 L80.6 401.17 L90.7 401.17 L90.7 408.48 L91.36 408.48 L91.36 415.78 L92.19 415.78 L92.19 423.09 L94 423.09 L94 430.4 L98.45 430.4 L98.45 445.02 L102.24 445.02 L102.24 452.32 L103.89 452.32 L103.89 459.63 L111.22 459.63 L111.22 466.94 L112.52 466.94 L112.52 474.25 L126.63 474.25 L126.63 481.55 L145.02 481.55 L145.02 488.86 L146.97 488.86 L146.97 496.17 L155.09 496.17 L155.09 503.48 L183.16 503.48 L183.16 510.78 L217.43 510.78 L217.43 518.09 L321.75 518.09 L321.75 525.4" stroke="#ff7f0e" stroke-width="0.9" fill="none" stroke-linejoin="miter" stroke-opacity="0.95"/>
<path d="M42.42 335.4 L42.42 346.58 L49.83 346.58 L49.83 357.75 L57.91 357.75 L57.91 368.93 L59.56 368.93 L59.56 380.11 L61.7 380.11 L61.7 391.28 L78.01 391.28 L78.01 402.46 L80.22 402.46 L80.22 413.64 L82.1 413.64 L82.1 424.81 L83.95 424.81 L83.95 435.99 L87.08 435.99 L87.08 447.16 L93.41 447.16 L93.41 458.34 L98.37 458.34 L98.37 469.52 L103.06 469.52 L103.06 480.69 L106.36 480.69 L106.36 491.87 L155.4 491.87 L155.4 503.05 L158.34 503.05 L158.34 514.22 L214.3 514.22 L214.3 525.4" stroke="#2ca02c" stroke-width="0.9" fill="none" stroke-linejoin="miter" stroke-opacity="0.95"/>
<path d="M39.78 335.4 L39.78 345.96 L39.98 345.96 L39.98 356.51 L41.11 356.51 L41.11 367.07 L41.94 367.07 L41.94 377.62 L42.15 377.62 L42.15 388.18 L42.7 388.18 L42.7 398.73 L42.89 398.73 L42.89 409.29 L43.19 409.29 L43.19 419.84 L44.56 419.84 L44.56 430.4 L45.14 430.4 L45.14 440.96 L46.49 440.96 L46.49 451.51 L48.98 451.51 L48.98 462.07 L50.01 462.07 L50.01 472.62 L51.64 472.62 L51.64 483.18 L51.83 483.18 L51.83 493.73 L53.74 493.73 L53.74 504.29 L55.39 504.29 L55.39 514.84 L66.56 514.84 L66.56 525.4" stroke="#d62728" stroke-width="0.9" fill="none" stroke-linejoin="miter" stroke-opacity="0.95"/>
<path d="M40.93 335.4 L40.93 352.67 L41.43 352.67 L41.43 387.22 L44.66 387.22 L44.66 404.49 L45.5 404.49 L45.5 421.76 L45.74 421.76 L45.74 439.04 L46.01 439.04 L46.01 456.31 L48.65 456.31 L48.65 473.58 L49.52 473.58 L49.52 490.85 L56.7 490.85 L56.7 508.13 L65.06 508.13 L65.06 525.4" stroke="#9467bd" stroke-width="0.9" fill="none" stroke-linejoin="miter" stroke-opacity="0.95"/>
<path d="M38.46 335.4 L38.46 362.54 L42.25 362.54 L42.25 389.69 L44.56 389.69 L44.56 416.83 L46.93 416.83 L46.93 443.97 L51.35 443.97 L51.35 471.11 L58.2 471.11 L58.2 498.26 L68.39 498.26 L68.39 525.4" stroke="#8c564b" stroke-width="0.9" fill="none" stroke-linejoin="miter" stroke-opacity="0.95"/>
<path d="M47.2 335.4 L47.85 335.4 L47.85 345.4 L52.3 345.4 L52.3 355.4 L54.45 355.4 L54.45 365.4 L56.92 365.4 L56.92 385.4 L57.25 385.4 L57.25 395.4 L60.71 395.4 L60.71 415.4 L62.64 415.4 L62.64 425.4 L64.83 425.4 L64.83 445.4 L65.16 445.4 L65.16 455.4 L76.45 455.4 L76.45 465.4 L78.34 465.4 L78.34 475.4 L87.08 475.4 L87.08 485.4 L94.66 485.4 L94.66 495.4 L103.72 495.4 L103.72 505.4 L106.52 505.4 L106.52 515.4 L115.42 515.4 L115.42 525.4" stroke="#e377c2" stroke-width="0.9" fill="none" stroke-linejoin="miter" stroke-opacity="0.95"/>
<path d="M46.87 335.4 L46.87 430.4 L55.76 430.4 L55.76 525.4" stroke="#7f7f7f" stroke-width="0.9" fill="none" stroke-linejoin="miter" stroke-opacity="0.95"/>
<path d="M35 335.4 L47.2 335.4 L47.2 382.9 L50.49 382.9 L50.49 430.4 L56.75 430.4 L56.75 477.9 L65.32 477.9 L65.32 525.4" stroke="#bcbd22" stroke-width="0.9" fill="none" stroke-linejoin="miter" stroke-opacity="0.95"/>
<rect x="20.4" y="325.6" width="316.5" height="208.7" fill="none" stroke="#d4d4d4" stroke-width="0.62"/>
<text transform="translate(178.65 323.18) scale(1 1.1)" font-size="5.63" text-anchor="middle">Survival Curves by Treatment Group and MGMT Status</text>
<text transform="translate(35 542.16) scale(1 1.22)" font-size="4.7" text-anchor="middle">0</text>
<text transform="translate(76.2 542.16) scale(1 1.22)" font-size="4.7" text-anchor="middle">250</text>
<text transform="translate(117.4 542.16) scale(1 1.22)" font-size="4.7" text-anchor="middle">500</text>
<text transform="translate(158.6 542.16) scale(1 1.22)" font-size="4.7" text-anchor="middle">750</text>
<text transform="translate(199.8 542.16) scale(1 1.22)" font-size="4.7" text-anchor="middle">1000</text>
<text transform="translate(241 542.16) scale(1 1.22)" font-size="4.7" text-anchor="middle">1250</text>
<text transform="translate(282.2 542.16) scale(1 1.22)" font-size="4.7" text-anchor="middle">1500</text>
<text transform="translate(323.4 542.16) scale(1 1.22)" font-size="4.7" text-anchor="middle">1750</text>
<text transform="translate(17.2 527.46) scale(1 1.22)" font-size="4.7" text-anchor="end">0.0</text>
<text transform="translate(17.2 489.46) scale(1 1.22)" font-size="4.7" text-anchor="end">0.2</text>
<text transform="translate(17.2 451.46) scale(1 1.22)" font-size="4.7" text-anchor="end">0.4</text>
<text transform="translate(17.2 413.46) scale(1 1.22)" font-size="4.7" text-anchor="end">0.6</text>
<text transform="translate(17.2 375.46) scale(1 1.22)" font-size="4.7" text-anchor="end">0.8</text>
<text transform="translate(17.2 337.46) scale(1 1.22)" font-size="4.7" text-anchor="end">1.0</text>
<text transform="translate(178.65 548.42) scale(1 1.22)" font-size="4.7" text-anchor="middle">Days</text>
<text transform="translate(5.5 429.95) rotate(-90)" font-size="4.7" text-anchor="middle" dy="1.41">Survival Probability</text>
<rect x="260.5" y="328.3" width="73.7" height="71.9" rx="1.5" fill="#fff" fill-opacity="0.8" stroke="#d4d4d4" stroke-width="0.62"/>
<text transform="translate(297.35 334.09) scale(1 1.22)" font-size="4.7" text-anchor="middle">Group</text>
<path d="M262 338.8H272" stroke="#1f77b4" stroke-width="0.9" stroke-opacity="0.95"/>
<text transform="translate(275.3 340.75) scale(1 1.22)" font-size="4.7">Any TMZ therapy, MGMT 0</text>
<path d="M262 345.95H272" stroke="#ff7f0e" stroke-width="0.9" stroke-opacity="0.95"/>
<text transform="translate(275.3 347.9) scale(1 1.22)" font-size="4.7">Any TMZ therapy, MGMT 2</text>
<path d="M262 353.1H272" stroke="#2ca02c" stroke-width="0.9" stroke-opacity="0.95"/>
<text transform="translate(275.3 355.05) scale(1 1.22)" font-size="4.7">Any TMZ therapy, MGMT 1</text>
<path d="M262 360.25H272" stroke="#d62728" stroke-width="0.9" stroke-opacity="0.95"/>
<text transform="translate(275.3 362.2) scale(1 1.22)" font-size="4.7">No treatment, MGMT 0</text>
<path d="M262 367.4H272" stroke="#9467bd" stroke-width="0.9" stroke-opacity="0.95"/>
<text transform="translate(275.3 369.35) scale(1 1.22)" font-size="4.7">No treatment, MGMT 2</text>
<path d="M262 374.55H272" stroke="#8c564b" stroke-width="0.9" stroke-opacity="0.95"/>
<text transform="translate(275.3 376.5) scale(1 1.22)" font-size="4.7">No treatment, MGMT 1</text>
<path d="M262 381.7H272" stroke="#e377c2" stroke-width="0.9" stroke-opacity="0.95"/>
<text transform="translate(275.3 383.65) scale(1 1.22)" font-size="4.7">Only RT, MGMT 0</text>
<path d="M262 388.85H272" stroke="#7f7f7f" stroke-width="0.9" stroke-opacity="0.95"/>
<text transform="translate(275.3 390.8) scale(1 1.22)" font-size="4.7">Only RT, MGMT 2</text>
<path d="M262 396H272" stroke="#bcbd22" stroke-width="0.9" stroke-opacity="0.95"/>
<text transform="translate(275.3 397.95) scale(1 1.22)" font-size="4.7">Only RT, MGMT 1</text>
<text x="4.7" y="549.7" font-size="8" font-weight="bold" style="fill:#000;stroke:none">g</text>
<path d="M373.6 326.3V534.5M414.7 326.3V534.5M455.8 326.3V534.5M496.9 326.3V534.5M538 326.3V534.5M579.1 326.3V534.5M620.2 326.3V534.5M661.3 326.3V534.5M359.2 525.4H674.2M359.2 487.48H674.2M359.2 449.56H674.2M359.2 411.64H674.2M359.2 373.72H674.2M359.2 335.8H674.2" stroke="#dddddd" stroke-width="0.62" fill="none"/>
<path d="M383.79 335.8 L383.79 342.57 L386.42 342.57 L386.42 349.34 L388.63 349.34 L388.63 356.11 L393.66 356.11 L393.66 362.89 L397.41 362.89 L397.41 369.66 L399.9 369.66 L399.9 376.43 L406.56 376.43 L406.56 383.2 L413.06 383.2 L413.06 389.97 L416.18 389.97 L416.18 396.74 L417.46 396.74 L417.46 403.51 L418.32 403.51 L418.32 417.06 L419.96 417.06 L419.96 423.83 L421.83 423.83 L421.83 430.6 L426.87 430.6 L426.87 437.37 L428.1 437.37 L428.1 444.14 L431.86 444.14 L431.86 464.46 L446.76 464.46 L446.76 471.23 L448.02 471.23 L448.02 478 L450.46 478 L450.46 498.31 L462.28 498.31 L462.28 505.09 L465.04 505.09 L465.04 511.86 L477.99 511.86 L477.99 518.63 L497.94 518.63 L497.94 525.4" stroke="#1f77b4" stroke-width="0.9" fill="none" stroke-linejoin="miter" stroke-opacity="0.95"/>
<path d="M381 335.8 L381 340.21 L388.4 340.21 L388.4 344.62 L390.2 344.62 L390.2 349.03 L391.03 349.03 L391.03 353.44 L393 353.44 L393 357.85 L396.45 357.85 L396.45 366.67 L398.1 366.67 L398.1 371.07 L400.23 371.07 L400.23 375.48 L403.03 375.48 L403.03 379.89 L409.06 379.89 L409.06 393.12 L416.51 393.12 L416.51 397.53 L418.71 397.53 L418.71 401.94 L419.09 401.94 L419.09 406.35 L420.59 406.35 L420.59 410.76 L422.43 410.76 L422.43 415.17 L425.55 415.17 L425.55 419.58 L429.17 419.58 L429.17 423.99 L429.82 423.99 L429.82 428.4 L430.65 428.4 L430.65 432.8 L431.86 432.8 L431.86 437.21 L432.46 437.21 L432.46 441.62 L436.81 441.62 L436.81 446.03 L436.89 446.03 L436.89 454.85 L440.68 454.85 L440.68 459.26 L441.5 459.26 L441.5 463.67 L442.32 463.67 L442.32 468.08 L444.79 468.08 L444.79 472.49 L449.64 472.49 L449.64 476.9 L450.93 476.9 L450.93 481.31 L465.01 481.31 L465.01 485.72 L483.35 485.72 L483.35 490.13 L485.29 490.13 L485.29 494.53 L493.4 494.53 L493.4 498.94 L493.71 498.94 L493.71 503.35 L496.64 503.35 L496.64 507.76 L521.4 507.76 L521.4 512.17 L552.47 512.17 L552.47 516.58 L555.59 516.58 L555.59 520.99 L659.66 520.99 L659.66 525.4" stroke="#ff7f0e" stroke-width="0.9" fill="none" stroke-linejoin="miter" stroke-opacity="0.95"/>
<path d="M378.37 335.8 L378.37 346.33 L378.56 346.33 L378.56 356.87 L379.7 356.87 L379.7 367.4 L380.52 367.4 L380.52 377.93 L380.73 377.93 L380.73 388.47 L381.28 388.47 L381.28 399 L381.47 399 L381.47 409.53 L381.77 409.53 L381.77 420.07 L383.14 420.07 L383.14 430.6 L383.71 430.6 L383.71 441.13 L385.06 441.13 L385.06 451.67 L387.54 451.67 L387.54 462.2 L388.58 462.2 L388.58 472.73 L390.2 472.73 L390.2 483.27 L390.39 483.27 L390.39 493.8 L392.29 493.8 L392.29 504.33 L393.94 504.33 L393.94 514.87 L405.08 514.87 L405.08 525.4" stroke="#2ca02c" stroke-width="0.9" fill="none" stroke-linejoin="miter" stroke-opacity="0.95"/>
<path d="M377.05 335.8 L377.05 346.33 L379.52 346.33 L379.52 356.87 L380.01 356.87 L380.01 377.93 L380.83 377.93 L380.83 388.47 L383.14 388.47 L383.14 399 L383.23 399 L383.23 409.53 L384.07 409.53 L384.07 420.07 L384.32 420.07 L384.32 430.6 L384.58 430.6 L384.58 441.13 L385.5 441.13 L385.5 451.67 L387.21 451.67 L387.21 462.2 L388.08 462.2 L388.08 472.73 L389.91 472.73 L389.91 483.27 L395.25 483.27 L395.25 493.8 L396.75 493.8 L396.75 504.33 L403.59 504.33 L403.59 514.87 L406.91 514.87 L406.91 525.4" stroke="#d62728" stroke-width="0.9" fill="none" stroke-linejoin="miter" stroke-opacity="0.95"/>
<path d="M385.44 335.8 L386.42 335.8 L386.42 345.78 L390.86 345.78 L390.86 355.76 L393 355.76 L393 365.74 L395.47 365.74 L395.47 385.69 L395.79 385.69 L395.79 395.67 L399.25 395.67 L399.25 415.63 L401.17 415.63 L401.17 425.61 L403.36 425.61 L403.36 445.57 L403.69 445.57 L403.69 455.55 L414.95 455.55 L414.95 465.53 L416.84 465.53 L416.84 475.51 L425.55 475.51 L425.55 485.48 L433.11 485.48 L433.11 495.46 L442.15 495.46 L442.15 505.44 L444.95 505.44 L444.95 515.42 L453.83 515.42 L453.83 525.4" stroke="#9467bd" stroke-width="0.9" fill="none" stroke-linejoin="miter" stroke-opacity="0.95"/>
<path d="M373.6 335.8 L385.44 335.8 L385.44 367.4 L385.77 367.4 L385.77 399 L389.05 399 L389.05 430.6 L394.31 430.6 L394.31 462.2 L395.3 462.2 L395.3 493.8 L403.85 493.8 L403.85 525.4" stroke="#8c564b" stroke-width="0.9" fill="none" stroke-linejoin="miter" stroke-opacity="0.95"/>
<rect x="359.2" y="326.3" width="315" height="208.2" fill="none" stroke="#d4d4d4" stroke-width="0.62"/>
<text transform="translate(516.7 323.82) scale(1 1.1)" font-size="5.61" text-anchor="middle">Survival Curves by Treatment Group and MGMT Group</text>
<text transform="translate(373.6 542.16) scale(1 1.22)" font-size="4.7" text-anchor="middle">0</text>
<text transform="translate(414.7 542.16) scale(1 1.22)" font-size="4.7" text-anchor="middle">250</text>
<text transform="translate(455.8 542.16) scale(1 1.22)" font-size="4.7" text-anchor="middle">500</text>
<text transform="translate(496.9 542.16) scale(1 1.22)" font-size="4.7" text-anchor="middle">750</text>
<text transform="translate(538 542.16) scale(1 1.22)" font-size="4.7" text-anchor="middle">1000</text>
<text transform="translate(579.1 542.16) scale(1 1.22)" font-size="4.7" text-anchor="middle">1250</text>
<text transform="translate(620.2 542.16) scale(1 1.22)" font-size="4.7" text-anchor="middle">1500</text>
<text transform="translate(661.3 542.16) scale(1 1.22)" font-size="4.7" text-anchor="middle">1750</text>
<text transform="translate(355.6 527.46) scale(1 1.22)" font-size="4.7" text-anchor="end">0.0</text>
<text transform="translate(355.6 489.54) scale(1 1.22)" font-size="4.7" text-anchor="end">0.2</text>
<text transform="translate(355.6 451.62) scale(1 1.22)" font-size="4.7" text-anchor="end">0.4</text>
<text transform="translate(355.6 413.7) scale(1 1.22)" font-size="4.7" text-anchor="end">0.6</text>
<text transform="translate(355.6 375.78) scale(1 1.22)" font-size="4.7" text-anchor="end">0.8</text>
<text transform="translate(355.6 337.86) scale(1 1.22)" font-size="4.7" text-anchor="end">1.0</text>
<text transform="translate(516.7 548.42) scale(1 1.22)" font-size="4.7" text-anchor="middle">Days</text>
<text transform="translate(344 430.4) rotate(-90)" font-size="4.7" text-anchor="middle" dy="1.41">Survival Probability</text>
<rect x="570.7" y="328.7" width="100.9" height="50.6" rx="1.5" fill="#fff" fill-opacity="0.8" stroke="#d4d4d4" stroke-width="0.62"/>
<text transform="translate(621.15 334.49) scale(1 1.22)" font-size="4.7" text-anchor="middle">Group</text>
<path d="M572.1 339.3H581.9" stroke="#1f77b4" stroke-width="0.9" stroke-opacity="0.95"/>
<text transform="translate(585.8 341.25) scale(1 1.22)" font-size="4.7">Any TMZ therapy, MGMT Group 0</text>
<path d="M572.1 346.48H581.9" stroke="#ff7f0e" stroke-width="0.9" stroke-opacity="0.95"/>
<text transform="translate(585.8 348.43) scale(1 1.22)" font-size="4.7">Any TMZ therapy, MGMT Group 1 and 2</text>
<path d="M572.1 353.66H581.9" stroke="#2ca02c" stroke-width="0.9" stroke-opacity="0.95"/>
<text transform="translate(585.8 355.61) scale(1 1.22)" font-size="4.7">No treatment, MGMT Group 0</text>
<path d="M572.1 360.84H581.9" stroke="#d62728" stroke-width="0.9" stroke-opacity="0.95"/>
<text transform="translate(585.8 362.79) scale(1 1.22)" font-size="4.7">No treatment, MGMT Group 1 and 2</text>
<path d="M572.1 368.02H581.9" stroke="#9467bd" stroke-width="0.9" stroke-opacity="0.95"/>
<text transform="translate(585.8 369.97) scale(1 1.22)" font-size="4.7">Only RT, MGMT Group 0</text>
<path d="M572.1 375.2H581.9" stroke="#8c564b" stroke-width="0.9" stroke-opacity="0.95"/>
<text transform="translate(585.8 377.15) scale(1 1.22)" font-size="4.7">Only RT, MGMT Group 1 and 2</text>
<text x="339.4" y="549.9" font-size="8" font-weight="bold" style="fill:#000;stroke:none">h</text>
<path d="M1 156H676" stroke="#808080" stroke-width="1.7"/>
<path d="M1 315.5L677 314.9" stroke="#333" stroke-width="1.05"/>
</svg>
</body>
</html>
